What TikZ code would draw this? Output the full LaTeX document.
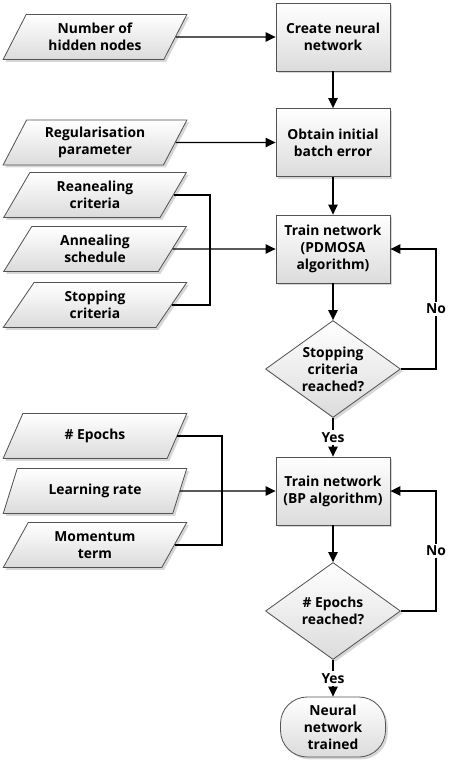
\documentclass[tikz,border=0pt]{standalone}
\usepackage{fontspec}
\setmainfont{Open Sans}
\usetikzlibrary{shapes.geometric,shadows,arrows.meta}

\begin{document}
\begin{tikzpicture}[x=0.03cm, y=-0.03cm,
  every node/.style={align=center, font=\fontsize{11.8}{14.5}\selectfont\bfseries},
  shade/.style={draw=gray!65!black, line width=0.7pt, top color=white, bottom color=gray!28,
    drop shadow={shadow xshift=2pt, shadow yshift=-2pt, fill=gray!70, opacity=0.45}},
  procbox/.style={shade, minimum width=3.42cm, minimum height=2.04cm, inner sep=1pt},
  inbox/.style={shade, trapezium, trapezium left angle=62, trapezium right angle=118,
    trapezium stretches=true, minimum width=5.52cm, minimum height=1.35cm, inner sep=1pt},
  decbox/.style={shade, diamond, aspect=1.39, minimum width=4.05cm, minimum height=2.91cm, inner sep=0pt},
  endbox/.style={shade, rounded corners=0.8cm, minimum width=3.15cm, minimum height=1.8cm, inner sep=1pt},
  arr/.style={-{Triangle[length=8.5pt,width=8pt]}, line width=1.2pt},
  wire/.style={line width=1.2pt},
  lbl/.style={fill=white, inner sep=2pt}]
\useasboundingbox (0,0) rectangle (474,761);

% inputs
\node[inbox] (hidden) at (95,37) {Number of\\hidden nodes};
\node[inbox] (reg) at (95,142.5) {Regularisation\\parameter};
\node[inbox] (rean) at (95,195) {Reanealing\\criteria};
\node[inbox] (sched) at (95,249) {Annealing\\schedule};
\node[inbox] (stopc) at (95,305) {Stopping\\criteria};
\node[inbox] (epochs) at (95,436) {\# Epochs};
\node[inbox] (rate) at (95,491) {Learning rate};
\node[inbox] (moment) at (95,545) {Momentum\\term};

% process
\node[procbox] (create) at (333,37) {Create neural\\network};
\node[procbox] (batch) at (333,142.5) {Obtain initial\\batch error};
\node[procbox] (pdmosa) at (333,249) {Train network\\(PDMOSA\\algorithm)};
\node[decbox] (stopq) at (333,369) {Stopping\\criteria\\reached?};
\node[procbox] (bp) at (333,491) {Train network\\(BP algorithm)};
\node[decbox] (epochq) at (333,611) {\# Epochs\\reached?};
\node[endbox] (trained) at (333,727) {Neural\\network\\trained};

\coordinate (join1) at (210,0);
\coordinate (join2) at (222,0);
\coordinate (back) at (436,0);

\draw[arr] (hidden.east) -- (create.west);
\draw[arr] (create) -- (batch);
\draw[arr] (reg.east) -- (batch.west);
\draw[arr] (batch) -- (pdmosa);
\draw[wire] (rean.east) -- (rean.east -| join1) |- (stopc.east);
\draw[arr] (sched.east) -- (pdmosa.west);
\draw[arr] (pdmosa) -- (stopq);
\draw[arr] (stopq.east) -- (stopq.east -| back) -- node[lbl] {No} (pdmosa.east -| back) -- (pdmosa.east);
\draw[arr] (stopq) -- node[lbl] {Yes} (bp);
\draw[wire] (epochs.east) -- (epochs.east -| join2) |- (moment.east);
\draw[arr] (rate.east) -- (bp.west);
\draw[arr] (bp) -- (epochq);
\draw[arr] (epochq.east) -- (epochq.east -| back) -- node[lbl] {No} (bp.east -| back) -- (bp.east);
\draw[arr] (epochq) -- node[lbl] {Yes} (trained);
\end{tikzpicture}
\end{document}
